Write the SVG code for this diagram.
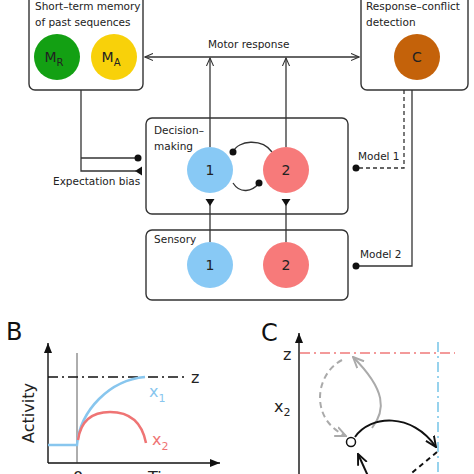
<svg xmlns="http://www.w3.org/2000/svg" width="474" height="474" viewBox="0 0 474 474">
<defs>
<style>
.box{fill:#fff;stroke:#333;stroke-width:1.4}
.t{font-family:"DejaVu Sans",sans-serif;font-size:10.5px;fill:#222}
.n{font-family:"DejaVu Sans",sans-serif;font-size:14px;fill:#222;text-anchor:middle}
.big{font-family:"DejaVu Sans",sans-serif;font-size:24px;fill:#111}
.ax{font-family:"DejaVu Sans",sans-serif;font-size:16px;fill:#222}
.ln{fill:none;stroke:#333;stroke-width:1.3}
.dt{fill:#111}
</style>
<marker id="chev" viewBox="0 0 10 10" refX="9" refY="5" markerWidth="9" markerHeight="9" markerUnits="userSpaceOnUse" orient="auto"><path d="M0,1 L9,5 L0,9" fill="none" stroke="#333" stroke-width="1.2"/></marker>
<marker id="fa" viewBox="0 0 10 10" refX="10" refY="5" markerWidth="10" markerHeight="10" markerUnits="userSpaceOnUse" orient="auto"><path d="M0,1 L10,5 L0,9 Z" fill="#111"/></marker>
<marker id="cb" viewBox="0 0 10 10" refX="9" refY="5" markerWidth="12" markerHeight="12" markerUnits="userSpaceOnUse" orient="auto"><path d="M0,1 L9,5 L0,9" fill="none" stroke="#111" stroke-width="1.6"/></marker>
<marker id="cg" viewBox="0 0 10 10" refX="9" refY="5" markerWidth="12" markerHeight="12" markerUnits="userSpaceOnUse" orient="auto"><path d="M0,1 L9,5 L0,9" fill="none" stroke="#aaa" stroke-width="1.6"/></marker>
</defs>

<g id="memory">
<rect class="box" x="29" y="-10" width="114" height="100" rx="6"/>
<text class="t" x="35" y="10">Short–term memory</text>
<text class="t" x="35" y="26">of past sequences</text>
<circle cx="57" cy="57" r="23" fill="#13a013"/>
<text class="n" x="54" y="62">M<tspan font-size="10" dy="4">R</tspan></text>
<circle cx="114" cy="57" r="23" fill="#f8d10a"/>
<text class="n" x="111" y="62">M<tspan font-size="10" dy="4">A</tspan></text>
</g>

<g id="conflict">
<rect class="box" x="361" y="-10" width="107" height="100" rx="6"/>
<text class="t" x="366" y="10">Response–conflict</text>
<text class="t" x="366" y="26">detection</text>
<circle cx="417" cy="57" r="23" fill="#c4620a"/>
<text class="n" x="417" y="62">C</text>
</g>

<g id="decision">
<rect class="box" x="146" y="118" width="202" height="96" rx="6"/>
<text class="t" x="154" y="134">Decision–</text>
<text class="t" x="154" y="150">making</text>
</g>

<g id="sensory">
<rect class="box" x="146" y="230" width="202" height="70" rx="6"/>
<text class="t" x="154" y="243">Sensory</text>
</g>

<g id="connectors">
<path class="ln" d="M210,147 V58" marker-end="url(#chev)"/>
<path class="ln" d="M286,147 V58" marker-end="url(#chev)"/>
<path class="ln" d="M252,57 H145" marker-end="url(#chev)"/>
<path class="ln" d="M252,57 H359" marker-end="url(#chev)"/>
<path class="ln" d="M81,90 V171 H136"/>
<path class="dt" d="M135,171 L142,166.5 L142,175.5 Z"/>
<path class="ln" d="M81,158 H138"/>
<circle class="dt" cx="138" cy="158" r="3.5"/>
<path class="ln" d="M233,152 C238,140 262,138 272,152"/>
<circle class="dt" cx="233" cy="152" r="3.5"/>
<path class="ln" d="M233,183 C240,194 252,192 259,183"/>
<circle class="dt" cx="259" cy="183" r="3.5"/>
<path class="ln" d="M210,242 V203"/>
<path class="dt" d="M205.5,199 L214.5,199 L210,206 Z"/>
<path class="ln" d="M286,242 V203"/>
<path class="dt" d="M281.5,199 L290.5,199 L286,206 Z"/>
<path class="ln" d="M404,90 V168 H356" stroke-dasharray="4,3"/>
<circle class="dt" cx="356" cy="168" r="3.5"/>
<path class="ln" d="M412,90 V266 H356"/>
<circle class="dt" cx="356" cy="266" r="3.5"/>
<text class="t" x="208" y="48">Motor response</text>
<text class="t" x="53" y="185">Expectation bias</text>
<text class="t" x="358" y="160">Model 1</text>
<text class="t" x="360" y="258">Model 2</text>
</g>

<g id="dm-node1"><circle cx="210" cy="170" r="23" fill="#88c9f5"/><text class="n" x="210" y="175">1</text></g>
<g id="dm-node2"><circle cx="286" cy="170" r="23" fill="#f77a7a"/><text class="n" x="286" y="175">2</text></g>
<g id="s-node1"><circle cx="210" cy="265" r="23" fill="#88c9f5"/><text class="n" x="210" y="270">1</text></g>
<g id="s-node2"><circle cx="286" cy="265" r="23" fill="#f77a7a"/><text class="n" x="286" y="270">2</text></g>

<g id="panelB">
<text class="big" x="6" y="340">B</text>
<path d="M48,463 V343" fill="none" stroke="#111" stroke-width="1.4" marker-end="url(#fa)"/>
<path d="M48,463 H220" fill="none" stroke="#111" stroke-width="1.4" marker-end="url(#fa)"/>
<path d="M77,353 V463" stroke="#333" stroke-width="0.8"/>
<path d="M48,377 H187" stroke="#111" stroke-width="1.5" stroke-dasharray="10,4,2,4"/>
<text class="ax" x="191" y="383">z</text>
<text class="ax" transform="translate(34,413) rotate(-90)" text-anchor="middle">Activity</text>
<path d="M48,445 H77 C80,410 110,380 145,377" fill="none" stroke="#88c6ee" stroke-width="2.5"/>
<path d="M78,440 Q82,412 110,412 Q140,412 146,443" fill="none" stroke="#ef7474" stroke-width="2.5"/>
<text class="ax" x="149" y="397" style="fill:#88c6ee">x<tspan font-size="11" dy="5">1</tspan></text>
<text class="ax" x="152" y="445" style="fill:#ef7474">x<tspan font-size="11" dy="5">2</tspan></text>
<text class="ax" x="73" y="483">0</text>
<text class="ax" x="148" y="483">Time</text>
</g>

<g id="panelC">
<text class="big" x="261" y="341">C</text>
<path d="M299,480 V333" fill="none" stroke="#111" stroke-width="1.4" marker-end="url(#fa)"/>
<text class="ax" x="283" y="360">z</text>
<text class="ax" x="274" y="412">x<tspan font-size="11" dy="4">2</tspan></text>
<path d="M300,353 H455" stroke="#ef7a7a" stroke-width="1.4" stroke-dasharray="10,4,2,4"/>
<path d="M438,342 V474" stroke="#6cc0e6" stroke-width="1.4" stroke-dasharray="10,4,2,4"/>
<path d="M372,428 C386,410 386,390 353,357" fill="none" stroke="#aaa" stroke-width="2" marker-end="url(#cg)"/>
<path d="M342,360 C314,375 310,420 346,436" fill="none" stroke="#aaa" stroke-width="2" stroke-dasharray="6,4" marker-end="url(#cg)"/>
<path d="M355,437 C370,415 412,412 436,447" fill="none" stroke="#111" stroke-width="2" marker-end="url(#cb)"/>
<path d="M437,452 L408,476" fill="none" stroke="#111" stroke-width="2" stroke-dasharray="5,4"/>
<path d="M368,476 L358,454" fill="none" stroke="#111" stroke-width="2" marker-end="url(#cb)"/>
<circle cx="351" cy="442" r="4.5" fill="#fff" stroke="#111" stroke-width="1.5"/>
</g>
</svg>
